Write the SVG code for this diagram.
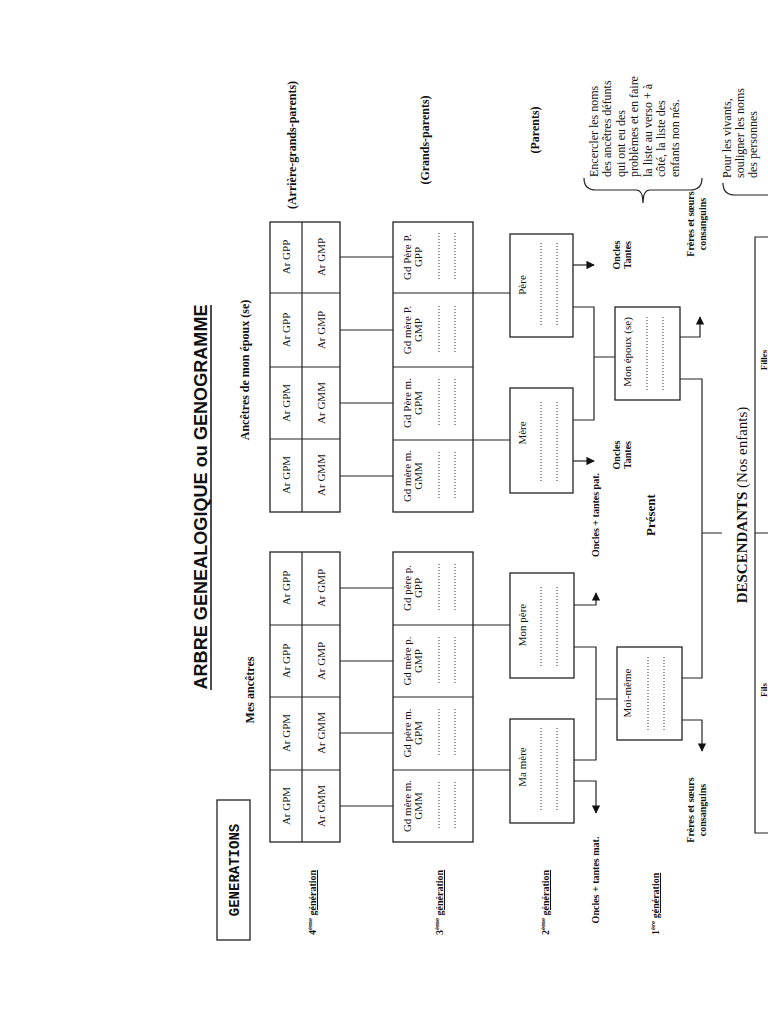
<svg xmlns="http://www.w3.org/2000/svg" width="768" height="1024" viewBox="0 0 768 1024" font-size="11">
<defs>
<style>
.b{fill:#fff;stroke:#222;stroke-width:1.3}
.c{fill:none;stroke:#222;stroke-width:1.2}
.d{stroke:#333;stroke-width:1;stroke-dasharray:1 2}
text{font-family:"Liberation Serif","Times New Roman",serif;fill:#111}
.m{text-anchor:middle}
.bd{font-weight:bold}
</style>
<marker id="ah" viewBox="0 0 10 10" refX="9" refY="5" markerWidth="7" markerHeight="7" orient="auto"><path d="M0,0L10,5L0,10z" fill="#111"/></marker>
</defs>
<rect width="768" height="1024" fill="#fff"/>
<g id="title">
<text class="m bd" transform="translate(207,497) rotate(-90)" style="font-family:'Liberation Sans',Arial,sans-serif;font-size:18px" textLength="385">ARBRE GENEALOGIQUE ou GENOGRAMME</text>
<line x1="211" y1="305" x2="211" y2="690" stroke="#111" stroke-width="1.5"/>
</g>
<g id="generations">
<rect x="217" y="800" width="33" height="140" class="b"/>
<text class="m bd" transform="translate(239,870) rotate(-90)" style="font-family:'Liberation Mono',monospace;font-size:14px">GENERATIONS</text>
</g>
<g id="headings">
<text class="m bd" transform="translate(254,690) rotate(-90)" font-size="12">Mes ancêtres</text>
<text class="m bd" transform="translate(249,370) rotate(-90)" font-size="12">Ancêtres de mon époux (se)</text>
<text class="m bd" transform="translate(296,145) rotate(-90)" font-size="12">(Arrière-grands-parents)</text>
<text class="m bd" transform="translate(429,140) rotate(-90)" font-size="12">(Grands-parents)</text>
<text class="m bd" transform="translate(539,130) rotate(-90)" font-size="12">(Parents)</text>
<text class="m bd" transform="translate(655,515) rotate(-90)" font-size="13">Présent</text>
<text class="m" transform="translate(747,505) rotate(-90)" font-size="15"><tspan class="bd">DESCENDANTS</tspan> (Nos enfants)</text>
</g>
<g id="genlabels">
<text class="bd" transform="translate(316,935) rotate(-90)" font-size="10">4<tspan font-size="7" dy="-4">ème</tspan><tspan dy="4"> </tspan><tspan text-decoration="underline">génération</tspan></text>
<text class="bd" transform="translate(443,935) rotate(-90)" font-size="10">3<tspan font-size="7" dy="-4">ème</tspan><tspan dy="4"> </tspan><tspan text-decoration="underline">génération</tspan></text>
<text class="bd" transform="translate(549,935) rotate(-90)" font-size="10">2<tspan font-size="7" dy="-4">ème</tspan><tspan dy="4"> </tspan><tspan text-decoration="underline">génération</tspan></text>
<text class="bd" transform="translate(659,935) rotate(-90)" font-size="10">1<tspan font-size="7" dy="-4">ère</tspan><tspan dy="4"> </tspan><tspan text-decoration="underline">génération</tspan></text>
</g>
<g id="gen4-left">
<rect x="270" y="552" width="70" height="290" class="b"/>
<path class="c" d="M302,552V842M270,625H340M270,697H340M270,770H340"/>
<text class="m" transform="translate(290,588) rotate(-90)">Ar GPP</text><text class="m" transform="translate(325,588) rotate(-90)">Ar GMP</text>
<text class="m" transform="translate(290,661) rotate(-90)">Ar GPP</text><text class="m" transform="translate(325,661) rotate(-90)">Ar GMP</text>
<text class="m" transform="translate(290,733) rotate(-90)">Ar GPM</text><text class="m" transform="translate(325,733) rotate(-90)">Ar GMM</text>
<text class="m" transform="translate(290,806) rotate(-90)">Ar GPM</text><text class="m" transform="translate(325,806) rotate(-90)">Ar GMM</text>
</g>
<g id="gen4-right">
<rect x="270" y="222" width="70" height="290" class="b"/>
<path class="c" d="M302,222V512M270,293H340M270,367H340M270,439H340"/>
<text class="m" transform="translate(290,257) rotate(-90)">Ar GPP</text><text class="m" transform="translate(325,257) rotate(-90)">Ar GMP</text>
<text class="m" transform="translate(290,330) rotate(-90)">Ar GPP</text><text class="m" transform="translate(325,330) rotate(-90)">Ar GMP</text>
<text class="m" transform="translate(290,403) rotate(-90)">Ar GPM</text><text class="m" transform="translate(325,403) rotate(-90)">Ar GMM</text>
<text class="m" transform="translate(290,475) rotate(-90)">Ar GPM</text><text class="m" transform="translate(325,475) rotate(-90)">Ar GMM</text>
</g>
<g id="gen3-left">
<rect x="393" y="552" width="80" height="290" class="b"/>
<path class="c" d="M393,625H473M393,697H473M393,770H473"/>
<text class="m" transform="translate(411,588) rotate(-90)">Gd père p.</text><text class="m" transform="translate(422,588) rotate(-90)">GPP</text>
<text class="m" transform="translate(411,661) rotate(-90)">Gd mère p.</text><text class="m" transform="translate(422,661) rotate(-90)">GMP</text>
<text class="m" transform="translate(411,733) rotate(-90)">Gd père m.</text><text class="m" transform="translate(422,733) rotate(-90)">GPM</text>
<text class="m" transform="translate(411,806) rotate(-90)">Gd mère m.</text><text class="m" transform="translate(422,806) rotate(-90)">GMM</text>
<path class="d" d="M439,564V612M455,564V612M439,637V685M455,637V685M439,709V757M455,709V757M439,782V830M455,782V830"/>
</g>
<g id="gen3-right">
<rect x="393" y="222" width="80" height="290" class="b"/>
<path class="c" d="M393,293H473M393,367H473M393,440H473"/>
<text class="m" transform="translate(411,257) rotate(-90)">Gd Père P.</text><text class="m" transform="translate(422,257) rotate(-90)">GPP</text>
<text class="m" transform="translate(411,330) rotate(-90)">Gd mère P.</text><text class="m" transform="translate(422,330) rotate(-90)">GMP</text>
<text class="m" transform="translate(411,403) rotate(-90)">Gd Père m.</text><text class="m" transform="translate(422,403) rotate(-90)">GPM</text>
<text class="m" transform="translate(411,476) rotate(-90)">Gd mère m.</text><text class="m" transform="translate(422,476) rotate(-90)">GMM</text>
<path class="d" d="M439,233V281M455,233V281M439,306V354M455,306V354M439,379V427M455,379V427M439,452V500M455,452V500"/>
</g>
<g id="mon-pere"><rect x="510" y="573" width="64" height="105" class="b"/>
<text class="m" transform="translate(526,625) rotate(-90)">Mon père</text><path class="d" d="M541,587V667M557,587V667"/></g>
<g id="ma-mere"><rect x="510" y="719" width="64" height="104" class="b"/>
<text class="m" transform="translate(526,767) rotate(-90)">Ma mère</text><path class="d" d="M541,728V812M557,728V812"/></g>
<g id="moi-meme"><rect x="617" y="647" width="65" height="93" class="b"/>
<text class="m" transform="translate(631,693) rotate(-90)">Moi-même</text><path class="d" d="M648,657V732M664,657V732"/></g>
<g id="pere"><rect x="510" y="234" width="63" height="103" class="b"/>
<text class="m" transform="translate(526,285) rotate(-90)">Père</text><path class="d" d="M541,243V327M557,243V327"/></g>
<g id="mere"><rect x="510" y="388" width="63" height="105" class="b"/>
<text class="m" transform="translate(526,433) rotate(-90)">Mère</text><path class="d" d="M541,402V483M557,402V483"/></g>
<g id="mon-epoux"><rect x="615" y="307" width="65" height="93" class="b"/>
<text class="m" transform="translate(631,352) rotate(-90)">Mon époux (se)</text><path class="d" d="M647,317V390M663,317V390"/></g>
<g id="connectors">
<path class="c" d="M340,588H393M340,661H393M340,733H393M340,806H393"/>
<path class="c" d="M340,257H393M340,330H393M340,403H393M340,476H393"/>
<path class="c" d="M473,625H510M473,770H510M473,293H510M473,440H510"/>
<path class="c" d="M574,647H596V760H574M596,699H617"/>
<path class="c" d="M573,307H594V420H573M594,357H615"/>
<path class="c" d="M682,678H702V379H680M702,533H722"/>
<path class="c" marker-end="url(#ah)" d="M574,605H596V593"/>
<path class="c" marker-end="url(#ah)" d="M574,781H596V813"/>
<path class="c" marker-end="url(#ah)" d="M682,720H702V751"/>
<path class="c" marker-end="url(#ah)" d="M573,265H594"/>
<path class="c" marker-end="url(#ah)" d="M573,461H594"/>
<path class="c" marker-end="url(#ah)" d="M680,337H700V317"/>
<path class="c" d="M768,237H755V833H768M755,533H768"/>
</g>
<g id="labels">
<text class="m bd" transform="translate(599,515) rotate(-90)" font-size="10">Oncles +  tantes  pat.</text>
<text class="m bd" transform="translate(599,880) rotate(-90)" font-size="10">Oncles + tantes  mat.</text>
<text class="m bd" transform="translate(620,455) rotate(-90)" font-size="10">Oncles</text><text class="m bd" transform="translate(631,455) rotate(-90)" font-size="10">Tantes</text>
<text class="m bd" transform="translate(620,255) rotate(-90)" font-size="10">Oncles</text><text class="m bd" transform="translate(631,255) rotate(-90)" font-size="10">Tantes</text>
<text class="m bd" transform="translate(694,224) rotate(-90)" font-size="10">Frères et sœurs</text><text class="m bd" transform="translate(706,224) rotate(-90)" font-size="10">consanguins</text>
<text class="m bd" transform="translate(694,810) rotate(-90)" font-size="10">Frères et sœurs</text><text class="m bd" transform="translate(706,810) rotate(-90)" font-size="10">consanguins</text>
<text class="m bd" transform="translate(767,360) rotate(-90)" font-size="9">Filles</text>
<text class="m bd" transform="translate(767,690) rotate(-90)" font-size="9">Fils</text>
</g>
<g id="notes">
<text transform="translate(598,177) rotate(-90)" font-size="12">Encercler les  noms</text>
<text transform="translate(611,177) rotate(-90)" font-size="12">des ancêtres défunts</text>
<text transform="translate(625,177) rotate(-90)" font-size="12">qui ont eu des</text>
<text transform="translate(638,177) rotate(-90)" font-size="12">problèmes et en faire</text>
<text transform="translate(652,177) rotate(-90)" font-size="12">la liste au verso + à</text>
<text transform="translate(665,177) rotate(-90)" font-size="12">côté, la liste des</text>
<text transform="translate(679,177) rotate(-90)" font-size="12">enfants non nés.</text>
<path class="c" d="M584,178Q584,190 596,190H636Q643,190 643,203Q643,190 650,190H690Q702,190 702,178"/>
<text transform="translate(731,178) rotate(-90)" font-size="12">Pour les vivants,</text>
<text transform="translate(744,178) rotate(-90)" font-size="12">souligner les noms</text>
<text transform="translate(757,178) rotate(-90)" font-size="12">des personnes</text>
<path class="c" d="M723,183Q723,195 735,195H768"/>
</g>
</svg>
